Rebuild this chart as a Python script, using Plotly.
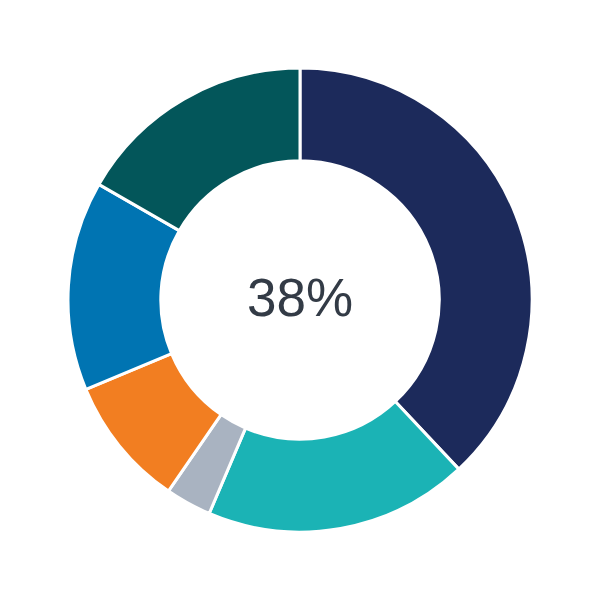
import plotly.graph_objects as go

labels = ["A", "B", "C", "D", "E", "F"]
values = [38.0, 18.4, 3.2, 9.1, 14.6, 16.7]
colors = ["#1c2a5b", "#1bb3b5", "#a9b3c1", "#f27e21", "#0074b2", "#03565a"]
center_text = "38%"

fig = go.Figure(
    data=[go.Pie(
        labels=labels,
        values=values,
        hole=0.6,
        sort=False,
        direction="clockwise",
        rotation=0,
        textinfo="none",
        hoverinfo="label+percent",
        marker=dict(colors=colors, line=dict(color="white", width=3)),
    )]
)

# page body has an 8px margin, so shift the domain up/left to centre at 300,300
fig.update_layout(
    width=600,
    height=600,
    margin=dict(l=60, r=76, t=60, b=76),
    showlegend=False,
    paper_bgcolor="white",
    annotations=[dict(
        text=center_text,
        x=0.5, y=0.5,
        xref="paper", yref="paper",
        showarrow=False,
        yshift=3,
        font=dict(family="Liberation Sans, Arial, sans-serif", size=53, color="#333b46"),
    )],
)

fig.write_html("out.html")
